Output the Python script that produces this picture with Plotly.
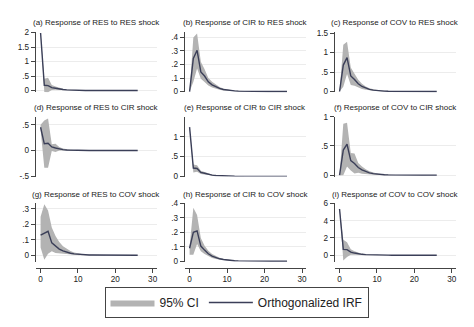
import plotly.graph_objects as go

# ---------------- data ----------------
steps = [0, 1, 2, 3, 4, 5, 6, 7, 8, 9, 10, 11, 12, 13, 14, 15, 16, 17, 18, 19, 20, 21, 22, 23, 24, 25, 26]

panel_titles = [
    "(a) Response of RES to RES shock", "(b) Response of CIR to RES shock", "(c) Response of COV to RES shock",
    "(d) Response of RES to CIR shock", "(e) Response of CIR to CIR shock", "(f) Response of COV to CIR shock",
    "(g) Response of RES to COV shock", "(h) Response of CIR to COV shock", "(i) Response of COV to COV shock",
]

irf_a = [1.98, 0.18, 0.17, 0.10, 0.08, 0.05, 0.034, 0.023, 0.015, 0.010, 0.007, 0.005, 0.003, 0.002, 0.0015, 0.001, 0.0007, 0.0005, 0.0003, 0.0002, 0.0001, 0.0001, 0, 0, 0, 0, 0]
lo_a = [1.96, -0.05, -0.06, 0.02, 0.025, 0.018, 0.012, 0.008, 0.005, 0.003, 0.002, 0.001, 0.0008, 0.0005, 0.0003, 0.0002, 0.0001, 0, 0, 0, 0, 0, 0, 0, 0, 0, 0]
hi_a = [2.00, 0.41, 0.44, 0.19, 0.14, 0.085, 0.058, 0.040, 0.027, 0.018, 0.012, 0.008, 0.006, 0.004, 0.003, 0.002, 0.0013, 0.0009, 0.0006, 0.0004, 0.0003, 0.0002, 0.0001, 0.0001, 0, 0, 0]

irf_b = [0, 0.245, 0.305, 0.145, 0.115, 0.072, 0.05, 0.034, 0.023, 0.015, 0.010, 0.007, 0.005, 0.003, 0.002, 0.0015, 0.001, 0.0007, 0.0005, 0.0003, 0.0002, 0.0001, 0.0001, 0, 0, 0, 0]
lo_b = [0, 0.07, 0.17, 0.095, 0.07, 0.045, 0.03, 0.02, 0.013, 0.008, 0.005, 0.003, 0.002, 0.0015, 0.001, 0.0006, 0.0004, 0.0002, 0.0001, 0, 0, 0, 0, 0, 0, 0, 0]
hi_b = [0, 0.40, 0.43, 0.22, 0.165, 0.10, 0.072, 0.05, 0.034, 0.023, 0.016, 0.011, 0.008, 0.005, 0.0035, 0.0025, 0.0017, 0.0012, 0.0008, 0.0005, 0.0003, 0.0002, 0.0001, 0.0001, 0, 0, 0]

irf_c = [0, 0.68, 0.87, 0.40, 0.31, 0.20, 0.13, 0.085, 0.056, 0.037, 0.024, 0.016, 0.011, 0.007, 0.005, 0.003, 0.002, 0.0013, 0.0009, 0.0006, 0.0004, 0.0003, 0.0002, 0.0001, 0.0001, 0, 0]
lo_c = [0, 0.12, 0.45, 0.17, 0.15, 0.10, 0.065, 0.043, 0.028, 0.018, 0.012, 0.008, 0.005, 0.003, 0.002, 0.0015, 0.001, 0.0006, 0.0004, 0.0003, 0.0002, 0.0001, 0.0001, 0, 0, 0, 0]
hi_c = [0, 1.20, 1.28, 0.62, 0.46, 0.30, 0.20, 0.13, 0.085, 0.056, 0.037, 0.025, 0.016, 0.011, 0.007, 0.005, 0.003, 0.002, 0.0014, 0.0009, 0.0006, 0.0004, 0.0003, 0.0002, 0.0001, 0.0001, 0]

irf_d = [0.45, 0.13, 0.14, 0.07, 0.05, 0.03, 0.018, 0.011, 0.007, 0.004, 0.0025, 0.0015, 0.001, 0.0006, 0.0004, 0.0002, 0.0001, 0.0001, 0, 0, 0, 0, 0, 0, 0, 0, 0]
lo_d = [0.40, -0.33, -0.33, -0.01, -0.03, 0.0, 0.003, 0.002, 0.001, 0.0005, 0, 0, 0, 0, 0, 0, 0, 0, 0, 0, 0, 0, 0, 0, 0, 0, 0]
hi_d = [0.50, 0.58, 0.62, 0.12, 0.13, 0.07, 0.04, 0.024, 0.015, 0.009, 0.006, 0.0035, 0.002, 0.0013, 0.0008, 0.0005, 0.0003, 0.0002, 0.0001, 0.0001, 0, 0, 0, 0, 0, 0, 0]

irf_e = [1.24, 0.21, 0.20, 0.10, 0.08, 0.05, 0.033, 0.022, 0.015, 0.010, 0.007, 0.005, 0.003, 0.002, 0.0014, 0.001, 0.0007, 0.0005, 0.0003, 0.0002, 0.0001, 0.0001, 0, 0, 0, 0, 0]
lo_e = [1.21, 0.10, 0.12, 0.06, 0.05, 0.032, 0.021, 0.014, 0.009, 0.006, 0.004, 0.003, 0.002, 0.0012, 0.0008, 0.0005, 0.0003, 0.0002, 0.0001, 0, 0, 0, 0, 0, 0, 0, 0]
hi_e = [1.27, 0.30, 0.28, 0.14, 0.11, 0.07, 0.046, 0.031, 0.021, 0.014, 0.01, 0.007, 0.0045, 0.003, 0.002, 0.0014, 0.001, 0.0007, 0.0005, 0.0003, 0.0002, 0.0001, 0.0001, 0, 0, 0, 0]

irf_f = [0, 0.43, 0.53, 0.25, 0.20, 0.13, 0.09, 0.06, 0.04, 0.026, 0.017, 0.011, 0.007, 0.005, 0.003, 0.002, 0.0013, 0.0009, 0.0006, 0.0004, 0.0003, 0.0002, 0.0001, 0.0001, 0, 0, 0]
lo_f = [0, 0.0, 0.15, 0.08, 0.03, 0.04, 0.025, 0.017, 0.011, 0.007, 0.0045, 0.003, 0.002, 0.0013, 0.0008, 0.0005, 0.0003, 0.0002, 0.0001, 0.0001, 0, 0, 0, 0, 0, 0, 0]
hi_f = [0, 0.88, 0.90, 0.38, 0.37, 0.21, 0.15, 0.10, 0.068, 0.045, 0.03, 0.02, 0.013, 0.009, 0.006, 0.004, 0.0026, 0.0017, 0.0011, 0.0007, 0.0005, 0.0003, 0.0002, 0.0001, 0.0001, 0, 0]

irf_g = [0.13, 0.145, 0.155, 0.08, 0.06, 0.04, 0.028, 0.019, 0.013, 0.009, 0.006, 0.004, 0.0027, 0.0018, 0.0012, 0.0008, 0.0005, 0.0003, 0.0002, 0.0001, 0.0001, 0, 0, 0, 0, 0, 0]
lo_g = [0.05, -0.03, 0.01, 0.025, 0.015, 0.012, 0.008, 0.005, 0.0035, 0.0023, 0.0015, 0.001, 0.0006, 0.0004, 0.0002, 0.0001, 0.0001, 0, 0, 0, 0, 0, 0, 0, 0, 0, 0]
hi_g = [0.25, 0.33, 0.29, 0.18, 0.125, 0.085, 0.058, 0.04, 0.027, 0.018, 0.012, 0.008, 0.0055, 0.0037, 0.0025, 0.0017, 0.0011, 0.0007, 0.0005, 0.0003, 0.0002, 0.0001, 0.0001, 0, 0, 0, 0]

irf_h = [0.09, 0.20, 0.21, 0.105, 0.077, 0.052, 0.036, 0.025, 0.017, 0.012, 0.008, 0.0055, 0.0037, 0.0025, 0.0017, 0.0011, 0.0008, 0.0005, 0.0003, 0.0002, 0.0001, 0.0001, 0, 0, 0, 0, 0]
lo_h = [0.045, 0.045, 0.12, 0.07, 0.05, 0.034, 0.023, 0.016, 0.011, 0.0075, 0.005, 0.0035, 0.0023, 0.0015, 0.001, 0.0007, 0.0005, 0.0003, 0.0002, 0.0001, 0.0001, 0, 0, 0, 0, 0, 0]
hi_h = [0.10, 0.37, 0.32, 0.16, 0.108, 0.072, 0.05, 0.035, 0.024, 0.017, 0.012, 0.008, 0.0053, 0.0036, 0.0024, 0.0016, 0.0011, 0.0007, 0.0005, 0.0003, 0.0002, 0.0001, 0.0001, 0, 0, 0, 0]

irf_i = [5.35, 0.68, 0.65, 0.35, 0.25, 0.16, 0.105, 0.07, 0.046, 0.03, 0.02, 0.013, 0.009, 0.006, 0.004, 0.0026, 0.0017, 0.0011, 0.0007, 0.0005, 0.0003, 0.0002, 0.0001, 0.0001, 0, 0, 0]
lo_i = [5.25, -0.6, -0.2, 0.05, 0.06, 0.05, 0.035, 0.023, 0.015, 0.01, 0.0065, 0.0043, 0.0028, 0.0018, 0.0012, 0.0008, 0.0005, 0.0003, 0.0002, 0.0001, 0.0001, 0, 0, 0, 0, 0, 0]
hi_i = [5.45, 1.8, 1.5, 0.68, 0.45, 0.28, 0.18, 0.12, 0.08, 0.052, 0.034, 0.022, 0.015, 0.01, 0.0065, 0.0043, 0.0028, 0.0018, 0.0012, 0.0008, 0.0005, 0.0003, 0.0002, 0.0001, 0.0001, 0, 0]

irfs = [irf_a, irf_b, irf_c, irf_d, irf_e, irf_f, irf_g, irf_h, irf_i]
lows = [lo_a, lo_b, lo_c, lo_d, lo_e, lo_f, lo_g, lo_h, lo_i]
highs = [hi_a, hi_b, hi_c, hi_d, hi_e, hi_f, hi_g, hi_h, hi_i]

ytick_vals = [
    [0, 0.5, 1, 1.5, 2], [0, 0.1, 0.2, 0.3, 0.4], [0, 0.5, 1, 1.5],
    [-0.5, 0, 0.5], [0, 0.5, 1, 1.5], [0, 0.5, 1],
    [0, 0.1, 0.2, 0.3], [0, 0.1, 0.2, 0.3, 0.4], [0, 2, 4, 6],
]
ytick_text = [
    ["0", ".5", "1", "1.5", "2"], ["0", ".1", ".2", ".3", ".4"], ["0", ".5", "1", "1.5"],
    ["-.5", "0", ".5"], ["0", ".5", "1", "1.5"], ["0", ".5", "1"],
    ["0", ".1", ".2", ".3"], ["0", ".1", ".2", ".3", ".4"], ["0", "2", "4", "6"],
]
xtick_vals = [0, 10, 20, 30]
xtick_text = ["0", "10", "20", "30"]

# ---------------- layout constants ----------------
W, H = 474, 327
col_px = [(35.8, 157.1), (185.1, 306.8), (335.4, 456.8)]
row_px = [(29, 91), (116, 177.5), (205, 265)]
x_range = [-1.3, 31.1]
y_ranges = [
    [-0.067, 2.01], [-0.007, 0.439], [-0.025, 1.525],
    [-0.503, 0.651], [-0.005, 1.499], [-0.025, 1.0],
    [-0.042, 0.336], [-0.003, 0.4], [-0.75, 6.0],
]

FONT = "Liberation Sans, Arial, Helvetica, sans-serif"
LINE_COLOR = "#3b3f58"
CI_COLOR = "#b3b3b3"
AXIS_COLOR = "#444444"
GRID_COLOR = "#ececec"
TEXT_COLOR = "#222222"

fig = go.Figure()
layout = dict(
    width=W, height=H, margin=dict(l=0, r=0, t=0, b=0),
    paper_bgcolor="white", plot_bgcolor="white",
    font=dict(family=FONT, color=TEXT_COLOR, size=8),
    showlegend=True,
)
annotations = []

for k in range(9):
    r, c = divmod(k, 3)
    n = k + 1
    xa = "x" if n == 1 else f"x{n}"
    ya = "y" if n == 1 else f"y{n}"
    first = k == 0
    fig.add_trace(go.Scatter(
        x=steps, y=lows[k], mode="lines", line=dict(width=0, color=CI_COLOR),
        showlegend=False, hoverinfo="skip", xaxis=xa, yaxis=ya,
    ))
    fig.add_trace(go.Scatter(
        x=steps, y=highs[k], mode="lines", line=dict(width=0, color=CI_COLOR),
        fill="tonexty", fillcolor=CI_COLOR, name="95% CI",
        showlegend=first, legendgroup="ci", xaxis=xa, yaxis=ya,
    ))
    fig.add_trace(go.Scatter(
        x=steps, y=irfs[k], mode="lines", line=dict(width=1.4, color=LINE_COLOR),
        name="Orthogonalized IRF", showlegend=first, legendgroup="irf",
        xaxis=xa, yaxis=ya,
    ))

    x0, x1 = col_px[c]
    y0, y1 = row_px[r]
    xdom = [x0 / W, x1 / W]
    ydom = [1 - y1 / H, 1 - y0 / H]
    xkey = "xaxis" if n == 1 else f"xaxis{n}"
    ykey = "yaxis" if n == 1 else f"yaxis{n}"
    xcfg = dict(domain=xdom, range=x_range, showgrid=False, zeroline=False, fixedrange=True)
    if r == 2:
        xcfg.update(
            anchor="free", position=1 - 271 / H, showline=True, linecolor=AXIS_COLOR, linewidth=1,
            ticks="outside", ticklen=4, tickwidth=1, tickcolor=AXIS_COLOR,
            tickvals=xtick_vals, ticktext=xtick_text, tickfont=dict(size=8.2, color=TEXT_COLOR),
        )
    else:
        xcfg.update(anchor=ya, visible=False)
    layout[xkey] = xcfg
    layout[ykey] = dict(
        domain=ydom, range=y_ranges[k], anchor=xa, showline=True, linecolor=AXIS_COLOR, linewidth=1,
        ticks="outside", ticklen=4, tickwidth=1, tickcolor=AXIS_COLOR,
        tickvals=ytick_vals[k], ticktext=ytick_text[k], tickfont=dict(size=8.2, color=TEXT_COLOR),
        showgrid=True, gridcolor=GRID_COLOR, gridwidth=1, zeroline=False, fixedrange=True,
    )
    annotations.append(dict(
        text=panel_titles[k], xref="paper", yref="paper",
        x=(x0 + x1) / 2 / W, y=1 - (y0 - 9.5) / H, xanchor="center", yanchor="middle",
        showarrow=False, font=dict(size=8, color=TEXT_COLOR, family=FONT),
    ))

layout["annotations"] = annotations
layout["legend"] = dict(
    orientation="h", x=0.5, xanchor="center", y=1 - 291 / H, yanchor="top",
    bordercolor=AXIS_COLOR, borderwidth=1, bgcolor="white",
    font=dict(size=12, color=TEXT_COLOR, family=FONT), itemwidth=44,
    tracegroupgap=0, traceorder="normal",
)
fig.update_layout(**layout)
fig.write_html("out.html")
